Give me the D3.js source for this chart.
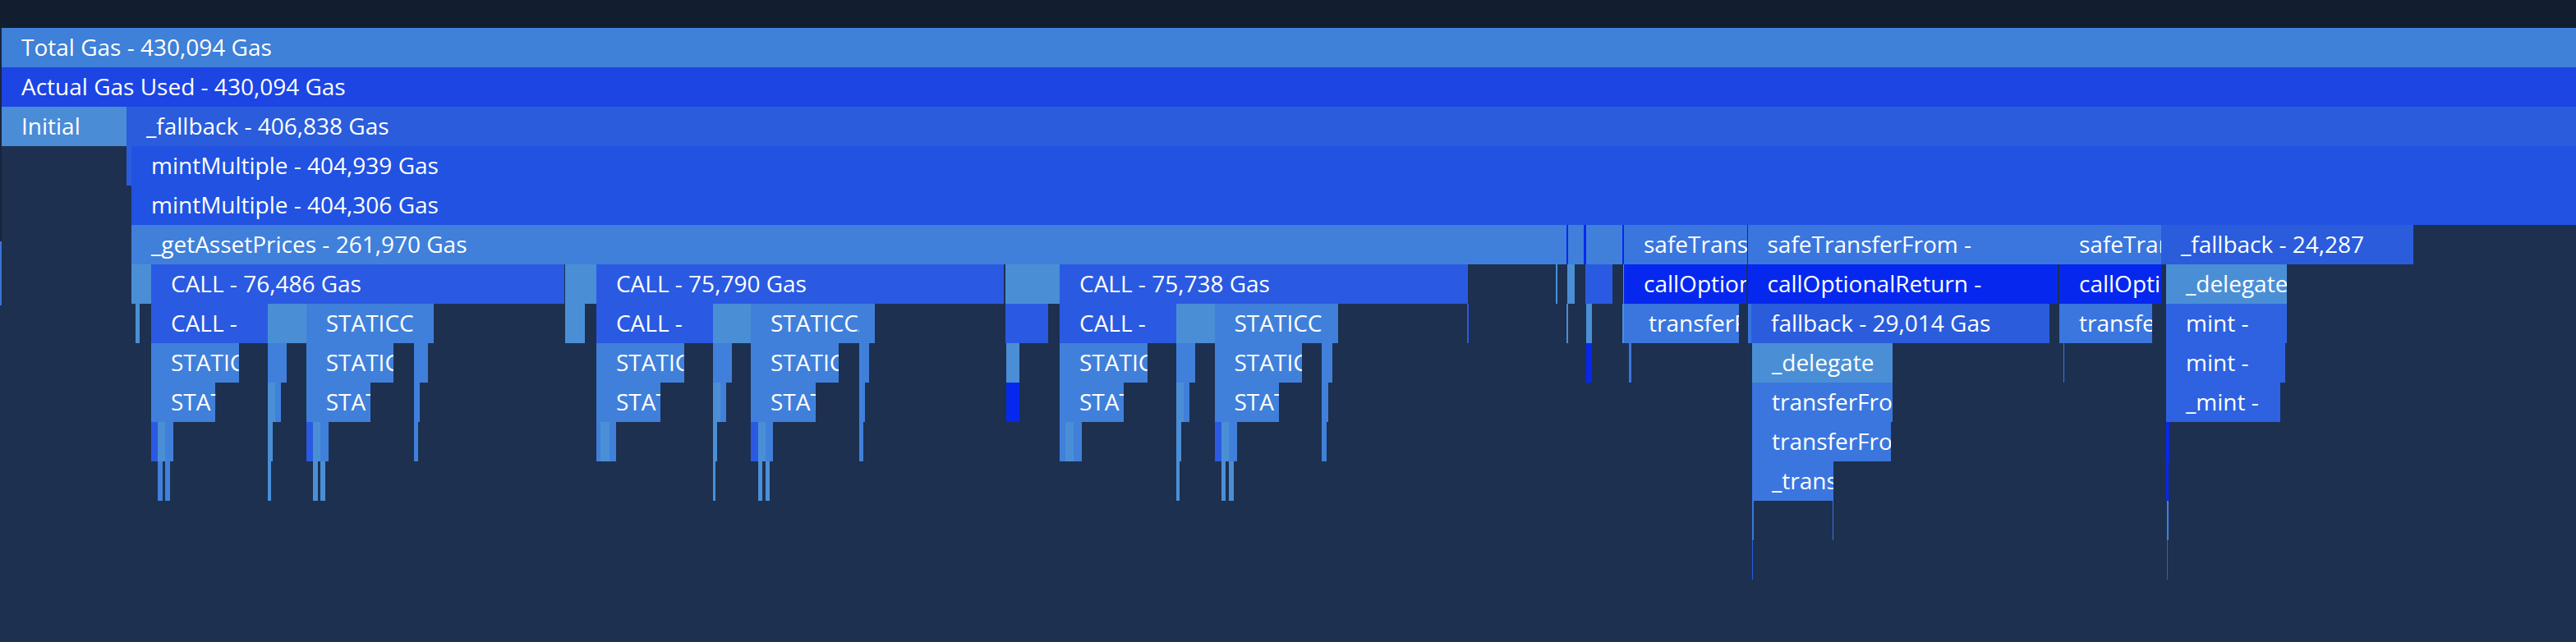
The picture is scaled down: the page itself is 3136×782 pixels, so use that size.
<!DOCTYPE html>
<html>
<head>
<meta charset="utf-8">
<script src="https://cdn.jsdelivr.net/npm/d3@7"></script>
<style>
  html, body { margin: 0; padding: 0; background: #1d3050; overflow: hidden; }
  svg { display: block; }
</style>
</head>
<body>
<svg id="chart" width="3136" height="782"></svg>
<script>
// ---- DATA (gas offsets): [start, end, kind, label] per call depth ----
const totalGas = 430094;

const depth0 = [[0, 430094, "total", "Total Gas - 430,094 Gas"]];
const depth1 = [[0, 430094, "actual", "Actual Gas Used - 430,094 Gas"]];
const depth2 = [
  [0, 20860, "init", "Initial"],
  [20860, 430094, "fb", "_fallback - 406,838 Gas"]
];
const depth3 = [
  [20860, 21683, "fb", ""],
  [21683, 430094, "mm", "mintMultiple - 404,939 Gas"]
];
const depth4 = [[21683, 430094, "mm", "mintMultiple - 404,306 Gas"]];
const depth5 = [
  [21683, 259511, "gap", "_getAssetPrices - 261,970 Gas"],
  [259511, 261433, "gap", ""],
  [261433, 261707, "sat", ""],
  [261707, 264315, "gap", ""],
  [264315, 264726, "sat", ""],
  [264726, 270765, "gap", ""],
  [270765, 271039, "sat", ""],
  [271039, 291624, "st", "safeTransferFrom -"],
  [291693, 343705, "st", "safeTransferFrom -"],
  [343774, 360791, "st", "safeTransferFrom -"],
  [360791, 402922, "fb", "_fallback - 24,287"]
];
const depth6 = [
  [21683, 22369, "lt", ""],
  [22410, 24977, "lt", ""],
  [24977, 94006, "call", "CALL - 76,486 Gas"],
  [94143, 99358, "lt", ""],
  [99358, 167427, "call", "CALL - 75,790 Gas"],
  [167701, 176759, "lt", ""],
  [176759, 244964, "call", "CALL - 75,738 Gas"],
  [259649, 259923, "lt", ""],
  [261529, 262763, "lt", ""],
  [264589, 269159, "call", ""],
  [270861, 271039, "lt", ""],
  [271039, 291487, "sat", "callOptionalReturn -"],
  [291693, 343499, "sat", "callOptionalReturn -"],
  [343774, 360736, "sat", "callOptionalReturn -"],
  [361614, 381788, "lt", "_delegate"]
];
const depth7 = [
  [22410, 23056, "lt", ""],
  [24977, 44423, "call", "CALL - "],
  [44423, 50873, "lt", ""],
  [50873, 68892, "gap", "STATICCALL"],
  [68892, 72186, "gap", ""],
  [94143, 97437, "lt", ""],
  [99358, 118777, "call", "CALL - "],
  [118777, 125158, "lt", ""],
  [125158, 143273, "gap", "STATICCALL"],
  [143273, 145881, "gap", ""],
  [167701, 174837, "call", ""],
  [176759, 196246, "call", "CALL - "],
  [196246, 202628, "lt", ""],
  [202628, 220537, "gap", "STATICCALL"],
  [220537, 223281, "gap", ""],
  [244827, 245033, "call", ""],
  [261433, 261639, "lt", ""],
  [264726, 265687, "lt", ""],
  [270765, 271039, "lt", ""],
  [271039, 271863, "st", ""],
  [271863, 290252, "st", "transferFrom"],
  [291693, 292311, "st", ""],
  [292311, 342127, "fb", "fallback - 29,014 Gas"],
  [343774, 359281, "st", "transferFrom"],
  [361614, 381788, "mint", "mint -"]
];
const depth8 = [
  [24977, 39620, "gap", "STATICCALL"],
  [44423, 47662, "gap", ""],
  [50873, 65461, "gap", "STATICCALL"],
  [68892, 71225, "gap", ""],
  [99358, 113974, "gap", "STATICCALL"],
  [118777, 122002, "gap", ""],
  [125158, 139842, "gap", "STATICCALL"],
  [143273, 144920, "gap", ""],
  [167838, 170034, "lt", ""],
  [176759, 191443, "gap", "STATICCALL"],
  [196246, 199402, "gap", ""],
  [202628, 217243, "gap", "STATICCALL"],
  [220537, 222321, "gap", ""],
  [264726, 265687, "sat", ""],
  [271863, 272274, "st", ""],
  [292448, 315915, "lt", "_delegate"],
  [344460, 344597, "st", ""],
  [361614, 381513, "mint", "mint -"]
];
const depth9 = [
  [24977, 35722, "gap", "STATICCALL"],
  [44423, 45699, "lt", ""],
  [45699, 46660, "gap", ""],
  [50873, 61618, "gap", "STATICCALL"],
  [68892, 69853, "gap", ""],
  [99358, 110062, "gap", "STATICCALL"],
  [118777, 120081, "lt", ""],
  [120081, 121041, "gap", ""],
  [125158, 136000, "gap", "STATICCALL"],
  [143273, 144234, "gap", ""],
  [167838, 170034, "sat", ""],
  [176759, 187469, "gap", "STATICCALL"],
  [196246, 197536, "lt", ""],
  [197536, 198442, "gap", ""],
  [202628, 213400, "gap", "STATICCALL"],
  [220537, 221635, "gap", ""],
  [292448, 315915, "st", "transferFrom"],
  [361614, 380690, "mint", "_mint -"]
];
const depth10 = [
  [24977, 26034, "call", ""],
  [26034, 27310, "lt", ""],
  [27310, 28682, "gap", ""],
  [44423, 45246, "lt", ""],
  [50873, 51971, "call", ""],
  [51971, 53247, "lt", ""],
  [53247, 54579, "gap", ""],
  [68892, 69510, "gap", ""],
  [99358, 100112, "gap", ""],
  [100112, 101622, "lt", ""],
  [101622, 102720, "gap", ""],
  [118777, 119532, "lt", ""],
  [125158, 126325, "call", ""],
  [126325, 127629, "lt", ""],
  [127629, 128864, "gap", ""],
  [143273, 143960, "gap", ""],
  [176759, 177719, "gap", ""],
  [177719, 179092, "lt", ""],
  [179092, 180464, "gap", ""],
  [196246, 197001, "lt", ""],
  [202628, 203794, "call", ""],
  [203794, 205029, "lt", ""],
  [205029, 206401, "gap", ""],
  [220537, 221360, "gap", ""],
  [292448, 315641, "st", "transferFrom"],
  [361614, 362163, "sat", ""]
];
const depth11 = [
  [26034, 26857, "gap", ""],
  [27310, 28174, "gap", ""],
  [44423, 44972, "lt", ""],
  [51971, 52794, "lt", ""],
  [53247, 54071, "lt", ""],
  [118777, 119257, "lt", ""],
  [126325, 127080, "lt", ""],
  [127629, 128315, "lt", ""],
  [196246, 196795, "lt", ""],
  [203794, 204480, "lt", ""],
  [205029, 205853, "lt", ""],
  [292448, 306034, "st", "_transfer"],
  [361614, 362026, "sat", ""]
];
const depth12 = [
  [292448, 292654, "st", ""],
  [305828, 306034, "st", ""],
  [361751, 361957, "gap", ""]
];
const depth13 = [
  [292448, 292586, "call", ""],
  [361751, 361888, "call", ""]
];

const rows = [depth0, depth1, depth2, depth3, depth4, depth5, depth6, depth7,
              depth8, depth9, depth10, depth11, depth12, depth13];

// ---- STYLE ----
const kindColor = {
  total: "#3f80d8", actual: "#1c45e4", init: "#4a8cd6", fb: "#2a5cdc",
  mm: "#2152e2", gap: "#4080da", call: "#2a5ae2", lt: "#4a8fd6",
  sat: "#0628ee", st: "#3a76de", mint: "#2e62e0"
};

const W = 3136, H = 782, TOP = 34, ROW = 48, PAD = 24;
const svg = d3.select("#chart");

svg.append("rect").attr("x", 0).attr("y", 0).attr("width", W).attr("height", H).attr("fill", "#1d3050");
svg.append("rect").attr("x", 0).attr("y", 0).attr("width", W).attr("height", TOP).attr("fill", "#121e30");
// left edge strip
svg.append("rect").attr("x", 0).attr("y", TOP).attr("width", 2).attr("height", 260).attr("fill", "#17263f");
svg.append("rect").attr("x", 0).attr("y", 294).attr("width", 2).attr("height", 78).attr("fill", "#3a74d6");

const x = d3.scaleLinear().domain([0, totalGas]).range([2, W]);
const y = d3.scaleBand().domain(d3.range(rows.length)).range([TOP, TOP + ROW * rows.length]).padding(0);

const frames = rows.flatMap((r, d) => r.map(([s, e, k, l], i) => ({
  depth: d, start: s, end: e, kind: k, label: l, id: `clip-${d}-${i}`
})));

const defs = svg.append("defs");
const labeled = frames.filter(f => f.label);
defs.selectAll("clipPath").data(labeled).join("clipPath")
  .attr("id", d => d.id)
  .append("rect")
  .attr("x", d => x(d.start))
  .attr("y", d => y(d.depth))
  .attr("width", d => x(d.end) - x(d.start))
  .attr("height", y.bandwidth());

const g = svg.append("g");
g.selectAll("rect.frame").data(frames).join("rect")
  .attr("class", "frame")
  .attr("x", d => x(d.start))
  .attr("y", d => y(d.depth))
  .attr("width", d => Math.max(1, x(d.end) - x(d.start)))
  .attr("height", y.bandwidth())
  .attr("fill", d => kindColor[d.kind])
  .attr("shape-rendering", "crispEdges");

g.selectAll("text.label").data(labeled).join("text")
  .attr("class", "label")
  .attr("clip-path", d => `url(#${d.id})`)
  .attr("x", d => x(d.start) + PAD)
  .attr("y", d => y(d.depth) + 34)
  .attr("fill", "#ffffff")
  .attr("font-family", "'Open Sans', 'Noto Sans', sans-serif")
  .attr("font-size", 28)
  .attr("xml:space", "preserve")
  .text(d => d.label)
  .each(function (d) {
    // keep only the characters that reach the frame's edge (the last one is cut by the clip)
    const avail = x(d.end) - x(d.start) - PAD;
    const el = d3.select(this);
    let t = d.label;
    while (t.length > 1 && this.getComputedTextLength() > avail) {
      const shorter = t.slice(0, -1);
      el.text(shorter);
      if (this.getComputedTextLength() < avail) { el.text(t); break; }
      t = shorter;
    }
  });
</script>
</body>
</html>
